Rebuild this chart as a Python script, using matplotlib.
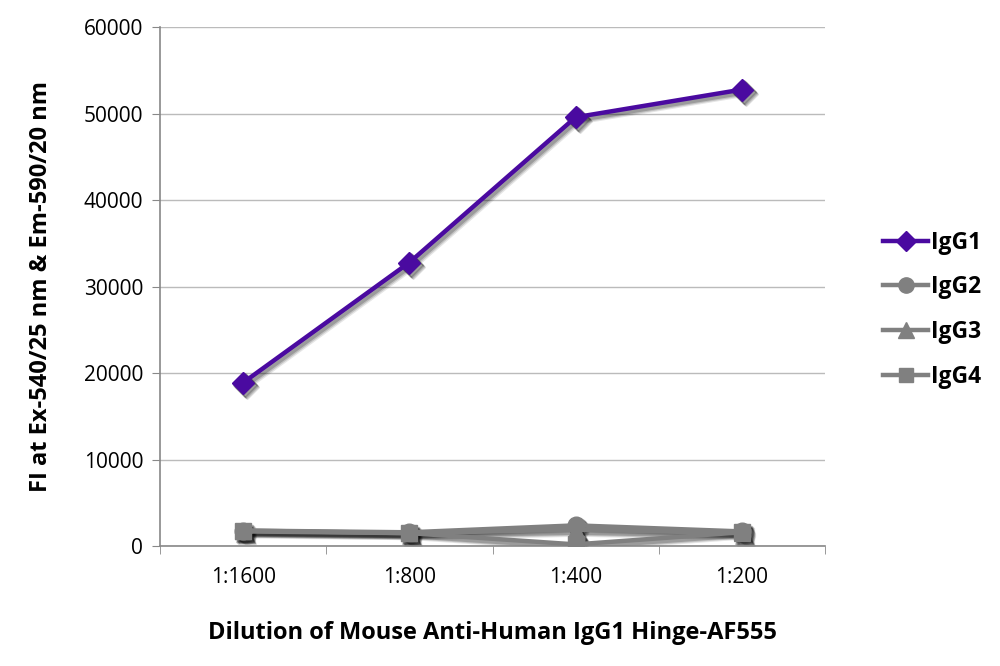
import numpy as np
import matplotlib
matplotlib.use("Agg")
import matplotlib.pyplot as plt
import matplotlib.transforms as mtransforms
from matplotlib.lines import Line2D

plt.rcParams['font.family'] = ['Open Sans', 'DejaVu Sans']

dilutions = ['1:1600', '1:800', '1:400', '1:200']
igg1 = [18900, 32800, 49600, 52800]
igg2 = [1800, 1600, 2400, 1700]
igg3 = [1700, 1500, 1900, 1500]
igg4 = [1800, 1500, 200, 1600]

series = [
    ('IgG1', igg1, '#4a0aa0', 'D', 11),
    ('IgG2', igg2, '#808080', 'o', 12),
    ('IgG3', igg3, '#808080', '^', 12),
    ('IgG4', igg4, '#808080', 's', 11),
]

fig = plt.figure(figsize=(10, 6.66), dpi=100)
ax = fig.add_axes([0.16, 0.18, 0.665, 0.779])

x = np.arange(len(dilutions))
# soft drop shadow: a few offset copies in dark grey
for name, vals, col, mk, ms in series[::-1]:
    for dx, al in [(4, 0.10), (3, 0.15), (2, 0.2)]:
        tr = mtransforms.offset_copy(ax.transData, fig=fig, x=dx, y=-dx, units='dots')
        ax.plot(x, vals, color='black', alpha=al, lw=4.5, marker=mk,
                markersize=ms + 1, transform=tr, zorder=2)
for name, vals, col, mk, ms in series[::-1]:
    ax.plot(x, vals, color=col, lw=3.2, marker=mk, markersize=ms, zorder=3)

ax.set_xlim(-0.5, len(dilutions) - 0.5)
ax.set_ylim(0, 60000)
ax.set_yticks(np.arange(0, 60001, 10000))
ax.set_xticks(x)
ax.set_xticklabels(dilutions)
ax.set_xticks(np.arange(-0.5, len(dilutions)), minor=True)
ax.tick_params(axis='x', which='major', length=0, pad=15, labelsize=15)
ax.tick_params(axis='x', which='minor', length=6, color='#888888')
ax.tick_params(axis='y', length=6, color='#888888', labelsize=15, pad=6)

ax.grid(axis='y', color='#bbbbbb', lw=1)
ax.set_axisbelow(True)
for s in ['top', 'right']:
    ax.spines[s].set_visible(False)
for s in ['left', 'bottom']:
    ax.spines[s].set_color('#888888')
    ax.spines[s].set_linewidth(1.2)

ax.set_xlabel('Dilution of Mouse Anti-Human IgG1 Hinge-AF555', fontsize=17,
              fontweight='bold', labelpad=24)
ax.set_ylabel('FI at Ex-540/25 nm & Em-590/20 nm', fontsize=17,
              fontweight='bold', labelpad=22)

handles = [Line2D([], [], color=col, lw=3.2, marker=mk, markersize=ms - 1)
           for name, vals, col, mk, ms in series]
fig.legend(handles, [s[0] for s in series], loc='center left',
           bbox_to_anchor=(0.862, 0.535), frameon=False,
           prop={'weight': 'bold', 'size': 16.5}, handlelength=2.0,
           handletextpad=0.1, labelspacing=0.9)

fig.savefig('out.png', dpi=100)
